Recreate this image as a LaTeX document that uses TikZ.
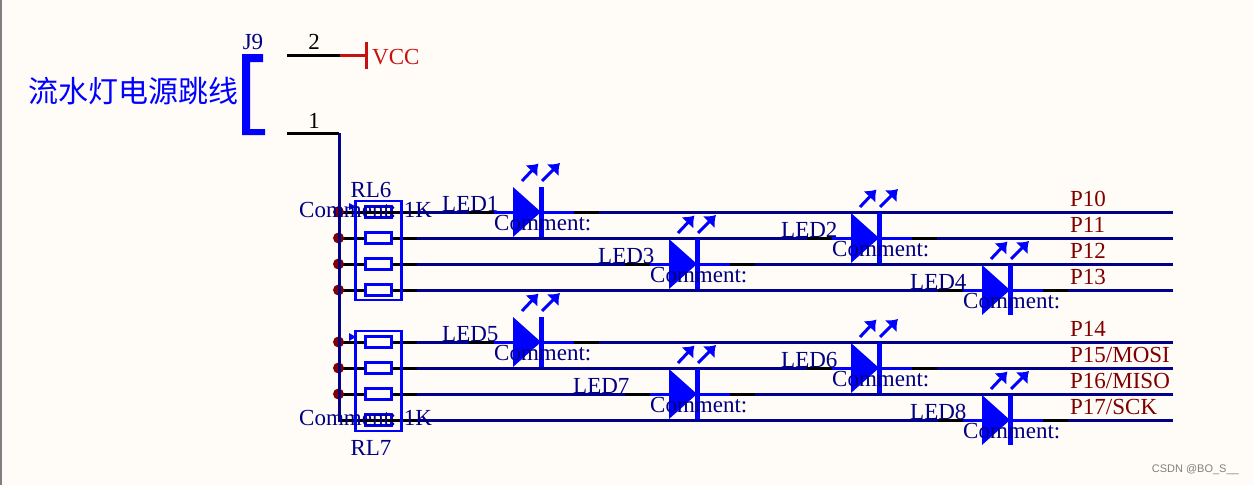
\documentclass[tikz,border=0pt]{standalone}
\usepackage{fontspec}
\setmainfont{Liberation Serif}
\setsansfont{Liberation Sans}
\newfontfamily\cjk{Noto Sans CJK SC}
\usetikzlibrary{arrows.meta}
\definecolor{paper}{HTML}{FFFCF8}
\definecolor{wirenavy}{HTML}{00008B}
\definecolor{partblue}{HTML}{0000FF}
\definecolor{labelnavy}{HTML}{000080}
\definecolor{netred}{HTML}{800000}
\definecolor{vccred}{HTML}{C81010}
\begin{document}
\begin{tikzpicture}[x=1pt,y=-1pt,>={Latex[length=10pt,width=17pt,fill=partblue]},font=\fontsize{23}{23}\selectfont]
                  \tikzstyle{wire}=[draw=wirenavy,line width=3pt]
                  \tikzstyle{pin}=[draw=black,line width=3pt]
                  \tikzstyle{ledpin}=[draw=partblue,line width=3pt]
                  \tikzstyle{junction}=[circle,fill=netred,draw=none,minimum size=11pt,inner sep=0pt]
                  \tikzstyle{label}=[text=labelnavy,inner sep=0pt]
                  \tikzstyle{net}=[text=netred,inner sep=0pt,anchor=west]
                  \tikzstyle{body}=[draw=partblue,line width=2.8pt,inner sep=0pt]

                  \useasboundingbox[fill=paper] (0,0) rectangle (1254,485);
                  \fill[gray] (0,0) rectangle (2,485);

                  \foreach \row/\wy in {1/212,2/238,3/264,4/290,5/342,6/368,7/394,8/420} {
                    \coordinate (w\row) at (339,\wy);
                    \coordinate (m\row) at (417,\wy);
                    \coordinate (e\row) at (1173,\wy);
                    \path[pin] (w\row) -- (m\row);
                    \path[wire] (m\row) -- (e\row);
                  }

                  \foreach \row/\wy in {1/212,2/238,3/264,4/290,5/342,6/368,7/394} {
                    \node[junction] (dot\row) at (338.5,\wy) {};
                  }

                  \coordinate (top) at (339,133);
                  \coordinate (bottom) at (339,421.5);
                  \path[wire] (top) -- (bottom);

                  \foreach \led/\row/\bx/\wy/\lx in {1/1/541/212/442,3/3/697/264/598,2/2/879/238/781,4/4/1010/290/910,5/5/541/342/442,7/7/697/394/573,6/6/879/368/781,8/8/1010/420/910} {
                    \coordinate (a\led) at (\bx-72,\wy);
                    \coordinate (b\led) at (\bx-47,\wy);
                    \coordinate (c\led) at (\bx+33,\wy);
                    \coordinate (d\led) at (\bx+58,\wy);
                    \coordinate (t\led) at (\bx,\wy);
                    \path[pin] (a\led) -- (b\led);
                    \path[ledpin] (b\led) -- (c\led);
                    \path[pin] (c\led) -- (d\led);
                    \fill[partblue] (\bx-28,\wy-25) -- (t\led) -- (\bx-28,\wy+25) -- cycle;
                    \fill[partblue] (\bx-2.5,\wy-25) rectangle (\bx+3,\wy+25);
                    \draw[->,partblue,line width=3pt] (\bx-19,\wy-31) -- (\bx-2.5,\wy-48.5);
                    \draw[->,partblue,line width=3pt] (\bx+1,\wy-31) -- (\bx+19,\wy-49);
                    \node[label,anchor=west] (led\led) at (\lx,\wy-8) {LED\led};
                    \node[label,anchor=west] (cm\led) at (\bx-47,\wy+11) {Comment:};
                  }

                  \node[body,minimum width=46pt,minimum height=99pt] (pack6) at (378.5,250.5) {};
                  \node[body,minimum width=46pt,minimum height=100pt] (pack7) at (378.5,381) {};
                  \foreach \row/\wy in {1/212,2/238,3/264,4/290,5/342,6/368,7/394,8/420} {
                    \node[body,fill=paper,minimum width=26pt,minimum height=11pt] (r\row) at (378.5,\wy) {};
                  }
                  \path[pin] (r1.west) -- (r1.east);
                  \path[pin] (r8.west) -- (r8.east);
                  \fill[partblue] (349,203) -- (356,206.5) -- (349,210) -- cycle;
                  \fill[partblue] (349,333) -- (356,337) -- (349,341) -- cycle;

                  \node[label] (rl6) at (371,190) {RL6};
                  \node[label,anchor=west] (cm6) at (299,210) {Comment: 1K};
                  \node[label] (rl7) at (371,448) {RL7};
                  \node[label,anchor=west] (cm7) at (299,418) {Comment: 1K};

                  \foreach \net/\ny in {P10/199,P11/225,P12/251,P13/277,P14/329,P15\slash MOSI/355,P16\slash MISO/381,P17\slash SCK/407} {
                    \node[net] at (1070,\ny) {\net};
                  }

                  \fill[partblue] (242,54) -- (263,54) -- (263,62) -- (250,62) -- (250,129) -- (265,129) -- (265,135) -- (242,135) -- cycle;
                  \node[label] (j9) at (253,42) {J9};
                  \node[text=partblue,inner sep=0pt,anchor=west,font=\cjk\fontsize{30}{30}\selectfont] (title) at (28,91) {流水灯电源跳线};

                  \coordinate (p2) at (287,55);
                  \coordinate (p2e) at (340,55);
                  \coordinate (vcc) at (366,55);
                  \coordinate (p1) at (287,133);
                  \path[pin] (p2) -- (p2e);
                  \draw[vccred,line width=3pt] (p2e) -- (vcc);
                  \draw[vccred,line width=3pt] (366,42) -- (366,69);
                  \path[pin] (p1) -- (top);
                  \node[inner sep=0pt] (two) at (314,42) {2};
                  \node[inner sep=0pt] (one) at (314,121) {1};
                  \node[text=vccred,inner sep=0pt,anchor=west] (vcclabel) at (372,57) {VCC};

                  \node[text=gray,inner sep=0pt,anchor=east,font=\sffamily\fontsize{11}{11}\selectfont] (mark) at (1239,470) {CSDN @BO\_S\_\_};
                \end{tikzpicture}
\end{document}
